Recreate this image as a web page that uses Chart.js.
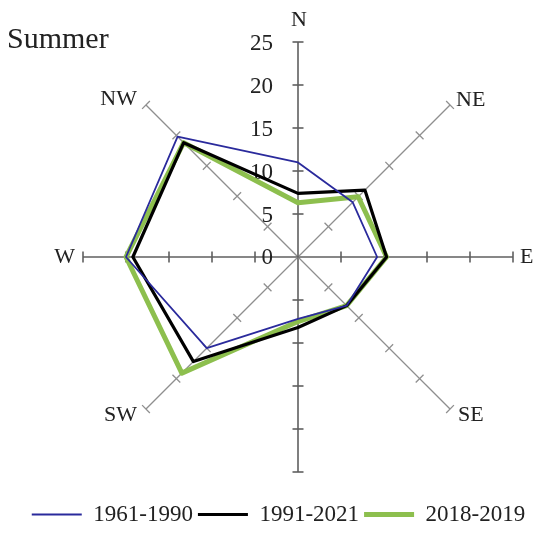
<!DOCTYPE html>
<html>
<head>
<meta charset="utf-8">
<script src="https://cdn.jsdelivr.net/npm/chart.js@4"></script>
<style>
  html, body { margin: 0; padding: 0; background: #fff; }
  canvas { display: block; }
</style>
</head>
<body>
<canvas id="windRose" width="550" height="533"></canvas>
<script>
// Data
const directions = ["N", "NE", "E", "SE", "S", "SW", "W", "NW"];
const axisTitles = ["N", "NE", "E", "SE", "", "SW", "W", "NW"];
const tickValues = [0, 5, 10, 15, 20, 25];
const period1961 = [11, 9, 9.2, 8, 7.2, 15, 20, 19.8];
const period1991 = [7.4, 11, 10.3, 8, 8.2, 17.2, 19.2, 18.8];
const period2018 = [6.3, 9.9, 10.3, 8, 7.5, 19.1, 20, 18.8];

// Layout of the rose
const CX = 298, CY = 257, RADIUS = 215;
const serif = "'Liberation Serif', 'Times New Roman', serif";
const axisColor = (i) => (i % 2 ? "#8f8f8f" : "#5f5f5f");

// Ticks, tick labels and direction names drawn along the angle lines
const compassAxes = {
  id: "compassAxes",
  beforeDatasetsDraw(chart) {
    const scale = chart.scales.r;
    const ctx = chart.ctx;
    ctx.save();
    directions.forEach((d, i) => {
      ctx.strokeStyle = axisColor(i);
      ctx.lineWidth = i % 2 ? 1.3 : 1.6;
      tickValues.forEach((v) => {
        if (v === 0) return;
        const p = scale.getPointPositionForValue(i, v);
        const nx = -Math.sin(p.angle), ny = Math.cos(p.angle);
        ctx.beginPath();
        ctx.moveTo(p.x - nx * 5.5, p.y - ny * 5.5);
        ctx.lineTo(p.x + nx * 5.5, p.y + ny * 5.5);
        ctx.stroke();
      });
    });

    // tick labels on the N axis
    ctx.fillStyle = "#222";
    ctx.font = "23px " + serif;
    ctx.textAlign = "right";
    ctx.textBaseline = "middle";
    tickValues.forEach((v) => {
      const p = scale.getPointPositionForValue(0, v);
      ctx.fillText(String(v), p.x - 25, p.y + (v === 0 ? 1 : 2));
    });

    // direction names
    ctx.font = "22px " + serif;
    const offsets = [
      [1, -22, "center"], [6, -5, "left"], [7, 0, "left"], [8, 6, "left"],
      [0, 0, "center"], [-9, 6, "right"], [-8, 0, "right"], [-9, -6, "right"],
    ];
    axisTitles.forEach((t, i) => {
      if (!t) return;
      const p = scale.getPointPosition(i, scale.drawingArea);
      ctx.textAlign = offsets[i][2];
      ctx.fillText(t, p.x + offsets[i][0], p.y + offsets[i][1]);
    });
    ctx.restore();
  },
};

const ctx = document.getElementById("windRose").getContext("2d");
new Chart(ctx, {
  type: "radar",
  data: {
    labels: directions,
    datasets: [
      {
        label: "1961-1990",
        data: period1961,
        borderColor: "#2a2a9c",
        borderWidth: 1.8,
      },
      {
        label: "1991-2021",
        data: period1991,
        borderColor: "#000000",
        borderWidth: 3.2,
      },
      {
        label: "2018-2019",
        data: period2018,
        borderColor: "#8dbf4e",
        borderWidth: 5,
      },
    ],
  },
  options: {
    responsive: false,
    animation: false,
    layout: { padding: { left: 7, right: 0, top: 0, bottom: -3 } },
    elements: {
      line: { tension: 0, fill: false, borderJoinStyle: "round" },
      point: { radius: 0, hoverRadius: 0 },
    },
    scales: {
      r: {
        min: 0,
        max: 25,
        ticks: { stepSize: 5, display: false },
        grid: { display: false },
        pointLabels: { display: false },
        angleLines: {
          display: true,
          color: (c) => axisColor(c.index),
          lineWidth: (c) => (c.index % 2 ? 1.3 : 1.6),
        },
        afterFit: (scale) => {
          scale.xCenter = CX;
          scale.yCenter = CY;
          scale.drawingArea = RADIUS;
        },
      },
    },
    plugins: {
      title: {
        display: true,
        text: "Summer",
        align: "start",
        color: "#222",
        font: { family: serif, size: 30, weight: "normal", lineHeight: 1.2 },
        padding: { top: 22, bottom: 0 },
      },
      legend: {
        position: "bottom",
        labels: {
          color: "#222",
          font: { family: serif, size: 23 },
          usePointStyle: true,
          pointStyle: "line",
          pointStyleWidth: 50,
          padding: 5,
        },
      },
      tooltip: { enabled: false },
    },
  },
  plugins: [compassAxes],
});
</script>
</body>
</html>
